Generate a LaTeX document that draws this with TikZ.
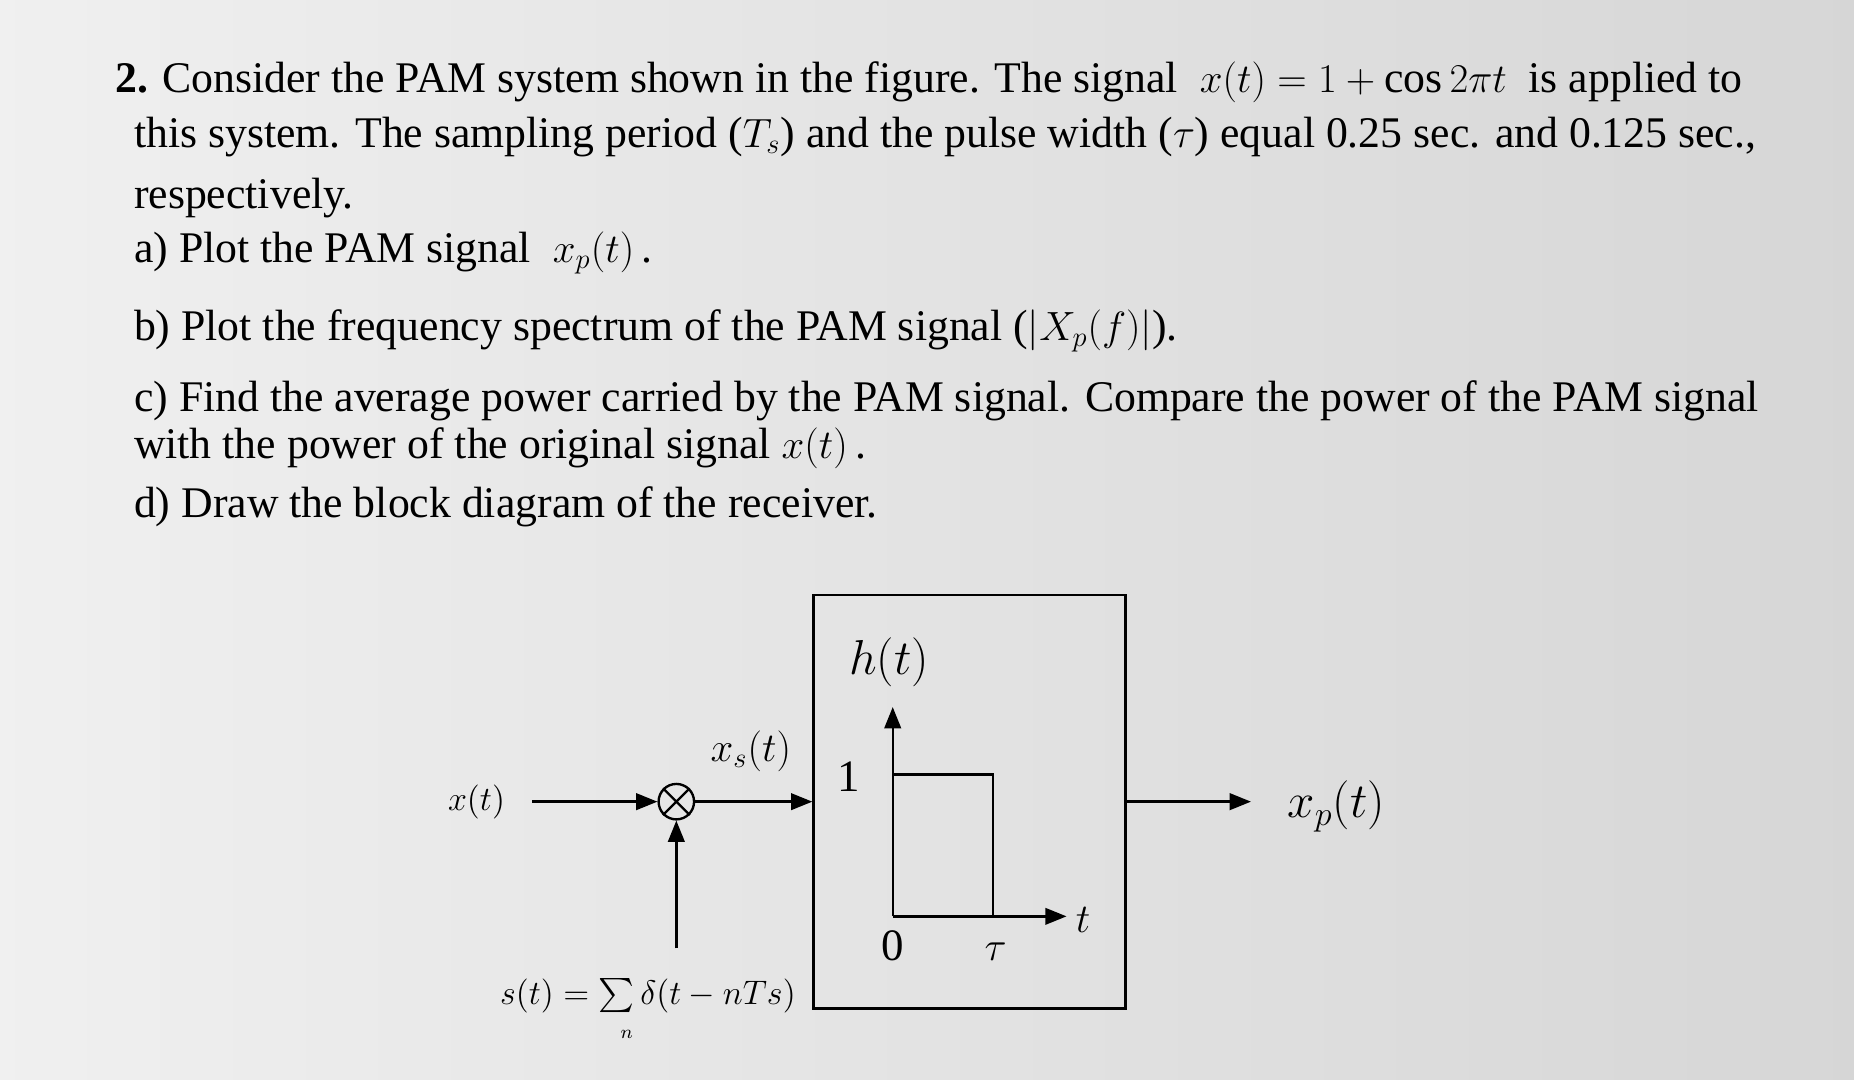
\documentclass[tikz,border=0pt]{standalone}
\usepackage{fontspec}
\setmainfont{Liberation Serif}
\usepackage{amsmath}
\usetikzlibrary{arrows.meta}
\begin{document}
\begin{tikzpicture}[x=0.5pt,y=-0.5pt,
 txt/.style={anchor=base west,inner sep=0,font=\fontsize{18.5}{20}\selectfont},
 ln/.style={line width=1pt},
 arr/.style={ln,-{Triangle[length=9pt,width=7pt]}}]
\useasboundingbox (0,0) rectangle (1568,913);
\shade[left color=gray!12,right color=gray!32] (0,0) rectangle (1568,913);
\node[txt] (l1) at (97,78) {\textbf{2.} Consider the PAM system shown in the figure. The signal \ $x(t)=1+\cos 2\pi t$ \ is applied to};
\node[txt] (l2) at (113,125) {this system. The sampling period ($T_s$) and the pulse width ($\tau$) equal 0.25 sec. and 0.125 sec.,};
\node[txt] (l3) at (113,176) {respectively.};
\node[txt] (l4) at (113,222) {a) Plot the PAM signal \ $x_p(t)$\,.};
\node[txt] (l5) at (113,288) {b) Plot the frequency spectrum of the PAM signal ($|X_p(f)|$).};
\node[txt] (l6) at (113,348) {c) Find the average power carried by the PAM signal. Compare the power of the PAM signal};
\node[txt] (l7) at (113,388) {with the power of the original signal $x(t)$\,.};
\node[txt] (l8) at (113,438) {d) Draw the block diagram of the receiver.};
% diagram
\node[draw,ln,minimum width=132pt,minimum height=175pt,anchor=north west,inner sep=0] (box) at (687,502) {};
\node[font=\fontsize{22}{24}\selectfont] (h) at (752,560) {$h(t)$};
\node[font=\fontsize{15}{18}\selectfont] (x) at (403,678) {$x(t)$};
\node[draw,ln,circle,minimum size=15pt,inner sep=0] (m) at (572,678) {};
\draw[ln] (m.north west)--(m.south east) (m.north east)--(m.south west);
\coordinate (xs) at (450,678);
\draw[arr] (xs) -- (m.west);
\draw[arr] (m.east) -- (box.west|-m);
\node[font=\fontsize{17}{18}\selectfont] (xsl) at (635,635) {$x_s(t)$};
\coordinate (sb) at (572,802);
\draw[arr] (sb) -- (m.south);
\node[font=\fontsize{14}{16}\selectfont] (sl) at (548,842) {$s(t)=\sum\delta(t-nTs)$};
\node[font=\fontsize{8}{9}\selectfont] (nl) at (530,875) {$n$};
\coordinate (o) at (755,775);
\coordinate (ty) at (755,598);
\coordinate (tx) at (902,775);
\draw[arr] (o) -- (ty);
\draw[arr] (o) -- (tx);
\draw[ln] (755,655) -| (840,775);
\node[font=\fontsize{19}{20}\selectfont] (one) at (718,657) {1};
\node[font=\fontsize{19}{20}\selectfont] (zero) at (755,800) {0};
\node[font=\fontsize{19}{20}\selectfont] (tau) at (842,805) {$\tau$};
\node[font=\fontsize{19}{20}\selectfont] (tl) at (916,778) {$t$};
\coordinate (oe) at (1058,678);
\draw[arr] (box.east|-m) -- (oe);
\node[font=\fontsize{22}{24}\selectfont] (xp) at (1130,682) {$x_p(t)$};
\end{tikzpicture}
\end{document}
